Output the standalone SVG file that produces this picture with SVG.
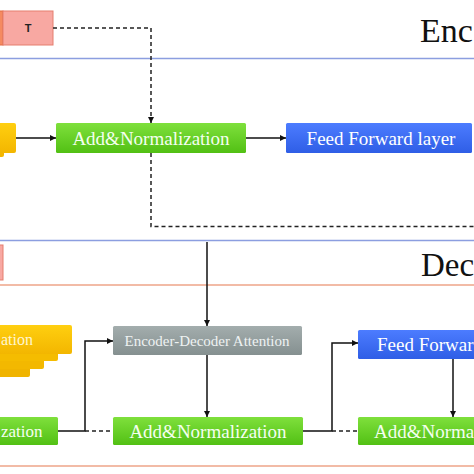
<svg xmlns="http://www.w3.org/2000/svg" width="474" height="474" viewBox="0 0 474 474">
<style>
.serif{font-family:"Liberation Serif","Times New Roman",serif}
.lbl{font-size:19px;fill:#f4fff0}
.lblw{font-size:19px;fill:#ffffff}
.title{fill:#111111}
.solid{fill:none;stroke:#111111;stroke-width:1.5}
.dash{fill:none;stroke:#222222;stroke-width:1.5;stroke-dasharray:4 3}
.sep-blue{stroke:#8c9ee0;stroke-width:1.5}
.sep-orange{stroke:#eea588;stroke-width:1.5}
</style>
<defs>
<linearGradient id="gGreen" x1="0" y1="0" x2="0" y2="1">
<stop offset="0" stop-color="#7fe03c"/>
<stop offset="1" stop-color="#52c014"/>
</linearGradient>
<linearGradient id="gBlue" x1="0" y1="0" x2="0" y2="1">
<stop offset="0" stop-color="#4c7cff"/>
<stop offset="1" stop-color="#2f5ee6"/>
</linearGradient>
<linearGradient id="gGray" x1="0" y1="0" x2="0" y2="1">
<stop offset="0" stop-color="#a3adad"/>
<stop offset="1" stop-color="#859090"/>
</linearGradient>
<linearGradient id="gYellow" x1="0" y1="0" x2="0" y2="1">
<stop offset="0" stop-color="#ffcf10"/>
<stop offset="1" stop-color="#f3b600"/>
</linearGradient>
<marker id="arr" viewBox="0 0 10 10" refX="10" refY="5" markerWidth="6" markerHeight="6" orient="auto" markerUnits="userSpaceOnUse">
<path d="M0,0 L10,5 L0,10 z" fill="#111111"/>
</marker>
</defs>

<g id="separators">
<line class="sep-blue" x1="0" y1="58.5" x2="474" y2="58.5"/>
<line class="sep-blue" x1="0" y1="240.5" x2="474" y2="240.5"/>
<line class="sep-orange" x1="0" y1="285" x2="474" y2="285"/>
<line class="sep-orange" x1="0" y1="466" x2="474" y2="466"/>
</g>

<g id="title-enc"><text class="serif title" font-size="34" x="420" y="42">Enc</text></g>
<g id="title-dec"><text class="serif title" font-size="33" x="421" y="276">Dec</text></g>

<g id="enc-input-left"><rect x="-4" y="11" width="7" height="34" fill="#f58a60" stroke="#e06a40"/></g>
<g id="enc-input-T">
<rect x="3" y="11" width="50" height="34" fill="#f8a8a2" stroke="#e57e6e"/>
<text x="28" y="32" text-anchor="middle" font-family="Liberation Sans, Arial, sans-serif" font-size="11" font-weight="bold" fill="#222">T</text>
</g>

<g id="enc-attention">
<rect x="-6" y="127" width="10" height="30" rx="2" fill="#f3b600"/>
<rect x="-6" y="123" width="22" height="30" rx="2" fill="url(#gYellow)"/>
</g>
<g id="enc-addnorm">
<rect x="56" y="123" width="190" height="30" rx="1.5" fill="url(#gGreen)"/>
<text class="serif lbl" x="151" y="145" text-anchor="middle">Add&amp;Normalization</text>
</g>
<g id="enc-ffn">
<rect x="286" y="123" width="186" height="30" rx="1.5" fill="url(#gBlue)"/>
<text class="serif lblw" x="381" y="145" text-anchor="middle">Feed Forward layer</text>
</g>

<g id="dec-input"><rect x="-4" y="245" width="7" height="35" fill="#f8a8a2" stroke="#e57e6e"/></g>

<g id="dec-masked-attention">
<rect x="-6" y="347" width="36" height="30" rx="2" fill="#f0b400"/>
<rect x="-6" y="339" width="50" height="30" rx="2" fill="#f3b800"/>
<rect x="-6" y="331" width="64" height="30" rx="2" fill="#f5bc00"/>
<rect x="-6" y="325" width="78" height="29" rx="2" fill="url(#gYellow)"/>
<text class="serif" font-size="16" x="1" y="345" fill="#fff6d0">ation</text>
</g>

<g id="dec-addnorm1">
<rect x="-6" y="417" width="64" height="28" rx="1.5" fill="url(#gGreen)"/>
<text class="serif" font-size="17" x="1" y="437" fill="#f4fff0">zation</text>
</g>

<g id="dec-encdec-attention">
<rect x="113" y="326" width="189" height="29" rx="1.5" fill="url(#gGray)"/>
<text x="207" y="346" text-anchor="middle" class="serif" font-size="15" fill="#eef2f2">Encoder-Decoder Attention</text>
</g>

<g id="dec-addnorm2">
<rect x="113" y="417" width="190" height="28" rx="1.5" fill="url(#gGreen)"/>
<text class="serif lbl" x="208" y="438" text-anchor="middle">Add&amp;Normalization</text>
</g>

<g id="dec-ffn">
<rect x="358" y="330" width="122" height="29" rx="1.5" fill="url(#gBlue)"/>
<text class="serif lblw" x="377" y="351">Feed Forwar</text>
</g>

<g id="dec-addnorm3">
<rect x="358" y="417" width="122" height="28" rx="1.5" fill="url(#gGreen)"/>
<text class="serif lbl" x="374" y="438">Add&amp;Norma</text>
</g>

<g id="connectors">
<path class="dash" d="M53,28 H151 V117"/>
<path class="solid" d="M151,117 V123" marker-end="url(#arr)"/>
<path class="solid" d="M16,138 H56" marker-end="url(#arr)"/>
<path class="solid" d="M246,138 H286" marker-end="url(#arr)"/>
<path class="dash" d="M151,153 V226.5 H474"/>
<path class="solid" d="M207,242 V326" marker-end="url(#arr)"/>
<path class="solid" d="M207,355 V417" marker-end="url(#arr)"/>
<path class="solid" d="M58,431 H85 V341 H113" marker-end="url(#arr)"/>
<path class="dash" d="M85,431 H113"/>
<path class="solid" d="M303,431 H332 V343 H358" marker-end="url(#arr)"/>
<path class="dash" d="M332,431 H358"/>
<path class="solid" d="M453,359 V417" marker-end="url(#arr)"/>
</g>
</svg>
